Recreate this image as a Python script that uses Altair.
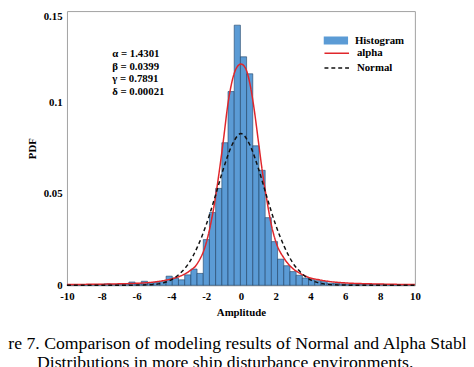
import altair as alt
import pandas as pd

# ---------------- data ----------------
bin_width = 0.356
first_edge = -9.998
hist_pdf = [
    0.0003, 0.0003, 0.0003, 0.0004, 0.0004, 0.0005, 0.0008, 0.0005, 0.0006, 0.0008,
    0.0018, 0.0010, 0.0022, 0.0012, 0.0015, 0.0020, 0.0050, 0.0040, 0.0030, 0.0057,
    0.0089, 0.0065, 0.0250, 0.0398, 0.0530, 0.0780, 0.1060, 0.1423, 0.1250, 0.1157,
    0.0763, 0.0629, 0.0370, 0.0239, 0.0143, 0.0107, 0.0075, 0.0055, 0.0040, 0.0030,
    0.0025, 0.0020, 0.0012, 0.0010, 0.0008, 0.0006, 0.0005, 0.0005, 0.0008, 0.0005,
    0.0004, 0.0004, 0.0003, 0.0003, 0.0003, 0.0003,
]

alpha_x = [-10, -9, -8, -7, -6, -5, -4.5, -4, -3.5, -3, -2.5, -2, -1.75, -1.5, -1.25,
           -1, -0.75, -0.5, -0.25, 0, 0.25, 0.5, 0.75, 1, 1.25, 1.5, 1.75, 2, 2.5, 3,
           3.5, 4, 4.5, 5, 6, 7, 8, 9, 10]
alpha_y = [0.0004, 0.0005, 0.0006, 0.0008, 0.0011, 0.0018, 0.0025, 0.0035, 0.0050,
           0.0075, 0.0120, 0.0230, 0.0330, 0.0460, 0.0620, 0.0800, 0.0990, 0.1120,
           0.1190, 0.1210, 0.1190, 0.1110, 0.0970, 0.0790, 0.0610, 0.0460, 0.0330,
           0.0240, 0.0145, 0.0090, 0.0060, 0.0040, 0.0030, 0.0022, 0.0013, 0.0009,
           0.0007, 0.0005, 0.0004]

normal_x = [-10, -7, -6, -5, -4.5, -4, -3.5, -3, -2.5, -2, -1.5, -1, -0.5, 0, 0.5, 1,
            1.5, 2, 2.5, 3, 3.5, 4, 4.5, 5, 6, 7, 10]
normal_y = [0, 0, 0.0001, 0.0005, 0.0012, 0.0030, 0.0065, 0.0120, 0.0210, 0.0330,
            0.0480, 0.0640, 0.0770, 0.0830, 0.0770, 0.0640, 0.0480, 0.0330, 0.0210,
            0.0120, 0.0065, 0.0030, 0.0012, 0.0005, 0.0001, 0, 0]

x_ticks = [-10, -8, -6, -4, -2, 0, 2, 4, 6, 8, 10]
y_ticks = [0, 0.05, 0.1, 0.15]
param_lines = ["α = 1.4301", "β = 0.0399", "γ = 0.7891", "δ = 0.00021"]
caption_lines = [
    "Figure 7. Comparison of modeling results of Normal and Alpha Stable",
    "Distributions in more ship disturbance environments.",
]

# ---------------- tables ----------------
edges = [round(first_edge + i * bin_width, 4) for i in range(len(hist_pdf) + 1)]
hist_df = pd.DataFrame({
    "x0": edges[:-1],
    "x1": edges[1:],
    "pdf": hist_pdf,
    "series": ["Histogram"] * len(hist_pdf),
})
curve_df = pd.concat([
    pd.DataFrame({"x": alpha_x, "y": alpha_y, "series": "alpha", "order": range(len(alpha_x))}),
    pd.DataFrame({"x": normal_x, "y": normal_y, "series": "Normal", "order": range(len(normal_x))}),
], ignore_index=True)

FONT = "Liberation Serif"
xscale = alt.Scale(domain=[-10, 10], nice=False, zero=False)
yscale = alt.Scale(domain=[0, 0.15], nice=False)

xaxis = alt.Axis(values=x_ticks, labelExpr="'' + datum.value", title="Amplitude",
                 grid=False, domain=False, ticks=False, labelPadding=5, titlePadding=6,
                 labelOverlap=False, labelFlush=False)
yaxis = alt.Axis(values=y_ticks, labelExpr="'' + datum.value", title="PDF", grid=False,
                 domain=False, ticks=False, labelPadding=5, titlePadding=6,
                 labelOverlap=False, labelFlush=False, labelLimit=200,
                 labelBaseline={"condition": {"test": "datum.value > 0.149", "value": "top"},
                                "value": "middle"})

bars = alt.Chart(hist_df).mark_rect(stroke="#1d3f63", strokeWidth=0.6, opacity=1).encode(
    x=alt.X("x0:Q", scale=xscale, axis=xaxis),
    x2="x1:Q",
    y=alt.Y("pdf:Q", scale=yscale, axis=yaxis),
    y2=alt.datum(0),
    fill=alt.Fill("series:N", scale=alt.Scale(domain=["Histogram"], range=["#5b9bd5"]),
                  legend=alt.Legend(title=None, orient="none", legendX=261, legendY=23,
                                    symbolType="M-1,-0.33H1V0.33H-1Z", symbolSize=625,
                                    symbolStrokeWidth=0, clipHeight=14, labelOffset=7)),
)

line_legend = alt.Legend(title=None, orient="none", legendX=261, legendY=36,
                         symbolType="stroke", symbolSize=625, symbolStrokeWidth=1.5,
                         clipHeight=14, rowPadding=1, labelOffset=7)
lines = alt.Chart(curve_df).mark_line(strokeWidth=1.5, interpolate="monotone").encode(
    x=alt.X("x:Q", scale=xscale, axis=xaxis),
    y=alt.Y("y:Q", scale=yscale, axis=yaxis),
    order="order:Q",
    detail="series:N",
    stroke=alt.Stroke("series:N", scale=alt.Scale(domain=["alpha", "Normal"], range=["#e0262b", "#111111"]),
                      legend=line_legend),
    strokeDash=alt.StrokeDash("series:N", scale=alt.Scale(domain=["alpha", "Normal"], range=[[1, 0], [4, 3]]),
                              legend=line_legend),
)

anchor = pd.DataFrame({"a": [0]})
params = alt.Chart(anchor).mark_text(
    text=param_lines, align="left", baseline="top", font=FONT, fontWeight="bold",
    fontSize=11, lineHeight=12.8, color="black",
).encode(x=alt.value(46), y=alt.value(38))

caption = alt.Chart(anchor).mark_text(
    text=caption_lines, align="center", baseline="alphabetic", font=FONT,
    fontSize=18, lineHeight=19, color="black",
).encode(x=alt.value(161), y=alt.value(344))

chart = alt.layer(bars, lines, params, caption).properties(
    width=354, height=279,
    padding={"left": 60, "top": 0, "right": 52, "bottom": 80},
    autosize=alt.AutoSizeParams(type="none"),
    background="white",
).configure_view(stroke="#a0a0a0", strokeWidth=1).configure_axis(
    labelFont=FONT, labelFontWeight="bold", labelFontSize=11, labelColor="black",
    titleFont=FONT, titleFontWeight="bold", titleFontSize=11, titleColor="black",
    labelOverlap=False,
).configure_legend(
    labelFont=FONT, labelFontWeight="bold", labelFontSize=11, labelColor="black",
)

chart.save("out.html", embed_options={"renderer": "svg", "actions": False})
